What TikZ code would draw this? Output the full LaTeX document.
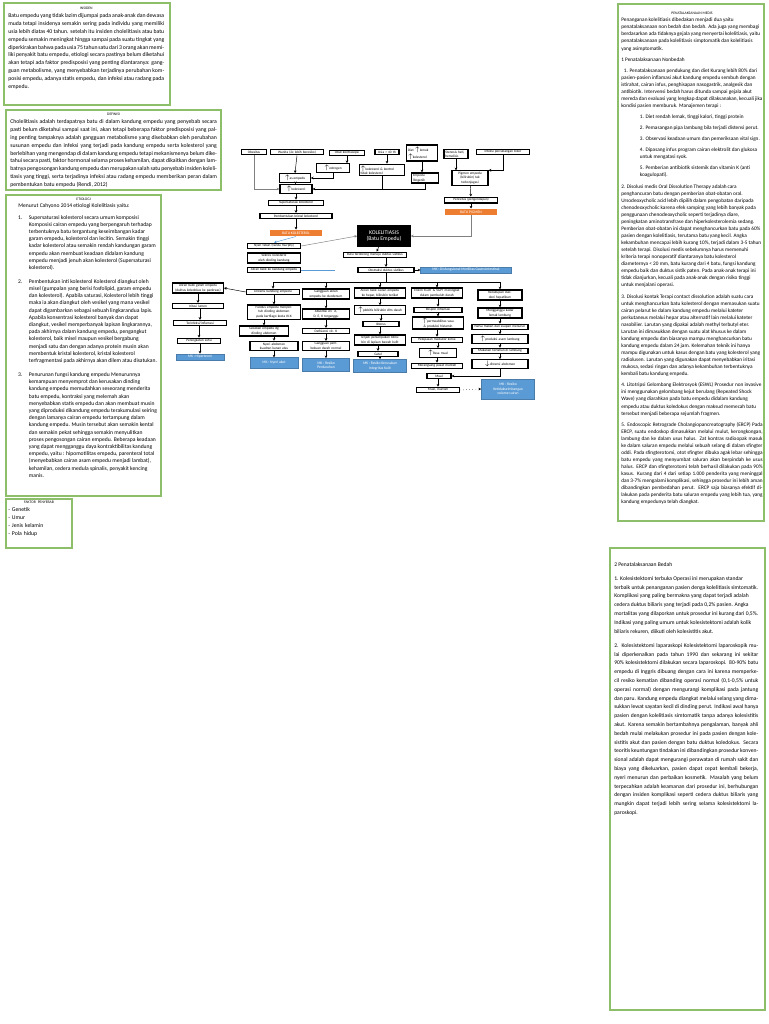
\documentclass[tikz,border=0pt]{standalone}
\usepackage{fontspec}
\setmainfont{Carlito}
\usetikzlibrary{arrows.meta}
\definecolor{gfr}{HTML}{8DBF6A}
\definecolor{mkb}{HTML}{5B9BD5}
\definecolor{org}{HTML}{ED7D31}
\tikzset{
 frame/.style={draw=gfr,line width=0.8pt},
 side/.style={anchor=north west,align=justify,inner sep=0pt,font=\fontsize{4.3}{5.9}\selectfont},
 fb/.style={draw,line width=0.9pt,fill=white,align=center,inner sep=1pt,font=\fontsize{2.6}{3.2}\selectfont},
 mk/.style={fill=mkb,draw=mkb!80!black,line width=0.3pt,text=white,align=center,inner sep=1.2pt,font=\fontsize{2.8}{3.4}\selectfont},
 ob/.style={fill=org,text=white,align=center,inner sep=1.5pt,font=\fontsize{2.8}{3.4}\selectfont},
 ar/.style={-{Stealth[length=2pt,width=2pt]},line width=0.35pt},
 ln/.style={line width=0.35pt,gray}
}
\newcommand{\itm}[1]{\par\noindent\llap{#1\hspace{5pt}}}
\begin{document}
\begin{tikzpicture}[x=0.75pt,y=-0.75pt]
\useasboundingbox (0,0) rectangle (768,1024);
% ---------- frames
\draw[frame] (4,3) rectangle (170,105);
\draw[frame] (6,110) rectangle (221,190);
\draw[frame] (6,195) rectangle (161,496);
\draw[frame] (6,499) rectangle (72,548);
\draw[frame] (618,4) rectangle (764,521);
\draw[frame] (610,548) rectangle (765,1010);
% ---------- left side texts
\node[side,text width=117pt] (incid) at (8,7) {\centering{\fontsize{2.8}{4}\selectfont INSIDEN\par}
Batu empedu yang tidak lazim dijumpai pada anak-anak dan dewasa muda tetapi insidenya semakin sering pada individu yang memiliki usia lebih diatas 40 tahun. setelah itu insiden cholelitiasis atau batu empedu semakin meningkat hingga sampai pada suatu tingkat yang diperkirakan bahwa pada usia 75 tahun satu dari 3 orang akan memiliki penyakit batu empedu, etiologi secara pastinya belum diketahui akan tetapi ada faktor predisposisi yang penting diantaranya: gangguan metabolisme, yang menyebabkan terjadinya perubahan komposisi empedu, adanya statis empedu, dan infeksi atau radang pada empedu.};
\node[side,text width=155pt] (def) at (10,113) {\centering{\fontsize{2.8}{4}\selectfont DEFINISI\par}
Cholelitiasis adalah terdapatnya batu di dalam kandung empedu yang penyebab secara pasti belum diketahui sampai saat ini, akan tetapi beberapa faktor predisposisi yang paling penting tampaknya adalah gangguan metabolisme yang disebabkan oleh perubahan susunan empedu dan infeksi yang terjadi pada kandung empedu serta kolesterol yang berlebihan yang mengendap di dalam kandung empedu tetapi mekanismenya belum diketahui secara pasti, faktor hormonal selama proses kehamilan, dapat dikaitkan dengan lambatnya pengosongan kandung empedu dan merupakan salah satu penyebab insiden kolelitiasis yang tinggi, serta terjadinya infeksi atau radang empedu memberikan peran dalam pembentukan batu empedu (Rendi, 2012)};
\node[side,text width=110pt,font=\fontsize{4.2}{5.4}\selectfont] (etio) at (10,198) {\centering{\fontsize{2.8}{4}\selectfont ETIOLOGI\par}\raggedright
\hspace*{6pt}Menurut Cahyono 2014 etiologi Kolelitiasis yaitu:\par\vspace{3pt}
\leftskip=14pt
\itm{1.}Supersaturasi kolesterol secara umum komposisi Komposisi cairan empedu yang berpengaruh terhadap terbentuknya batu tergantung keseimbangan kadar garam empedu, kolesterol dan lecitin. Semakin tinggi kadar kolesterol atau semakin rendah kandungan garam empedu akan membuat keadaan didalam kandung empedu menjadi jenuh akan kolesterol (Supersaturasi kolesterol).\par\vspace{5pt}
\itm{2.}Pembentukan inti kolesterol Kolesterol diangkut oleh misel (gumpalan yang berisi fosfolipid, garam empedu dan kolesterol). Apabila saturasi, Kolesterol lebih tinggi maka ia akan diangkut oleh vesikel yang mana vesikel dapat digambarkan sebagai sebuah lingkarandua lapis. Apabila konsentrasi kolesterol banyak dan dapat diangkut, vesikel memperbanyak lapisan lingkarannya, pada akhirnya dalam kandung empedu, pengangkut kolesterol, baik misel maupun vesikel bergabung menjadi satu dan dengan adanya protein musin akan membentuk kristal kolesterol, kristal kolesterol terfragmentasi pada akhirnya akan dilem atau disatukan.\par\vspace{5pt}
\itm{3.}Penurunan fungsi kandung empedu Menurunnya kemampuan menyemprot dan kerusakan dinding kandung empedu memudahkan seseorang menderita batu empedu, kontraksi yang melemah akan menyebabkan statis empedu dan akan membuat musin yang diproduksi dikandung empedu terakumulasi seiring dengan lamanya cairan empedu tertampung dalam kandung empedu. Musin tersebut akan semakin kental dan semakin pekat sehingga semakin menyulitkan proses pengosongan cairan empedu. Beberapa keadaan yang dapat mengganggu daya kontraktibilitas kandung empedu, yaitu : hipomotilitas empedu, parenteral total (menyebabkan cairan asam empedu menjadi lambat), kehamilan, cedera medula spinalis, penyakit kencing manis.\par};
\node[side,text width=46pt,align=left] (faktor) at (8,501) {\centering{\fontsize{2.8}{4}\selectfont FAKTOR PENYEBAB\par}\raggedright
- Genetik\\- Umur\\- Jenis kelamin\\- Pola hidup};
% ---------- right side texts
\node[side,text width=106pt,font=\fontsize{3.95}{5.3}\selectfont] (pm) at (621,12) {\centering{\fontsize{2.8}{4}\selectfont PENATALAKSANAAN MEDIS\par}\raggedright
Penanganan kolelitiasis dibedakan menjadi dua yaitu penatalaksanaan non bedah dan bedah. Ada juga yang membagi berdasarkan ada tidaknya gejala yang menyertai kolelitiasis, yaitu penatalaksanaan pada kolelitiasis simptomatik dan kolelitiasis yang asimptomatik.\par\vspace{3pt}
1 Penatalaksanaan Nonbedah\par\vspace{3pt}
\hspace*{2pt}1. Penatalaksanaan pendukung dan diet Kurang lebih 80\% dari pasien-pasien inflamasi akut kandung empedu sembuh dengan istirahat, cairan infus, penghisapan nasogastrik, analgesik dan antibiotik. Intervensi bedah harus ditunda sampai gejala akut mereda dan evaluasi yang lengkap dapat dilaksanakan, kecuali jika kondisi pasien memburuk. Manajemen terapi :\par\vspace{3pt}
{\leftskip=14pt
1. Diet rendah lemak, tinggi kalori, tinggi protein\par\vspace{3pt}
2. Pemasangan pipa lambung bila terjadi distensi perut.\par\vspace{3pt}
3. Observasi keadaan umum dan pemeriksaan vital sign.\par\vspace{3pt}
4. Dipasang infus program cairan elektrolit dan glukosa untuk mengatasi syok.\par\vspace{3pt}
5. Pemberian antibiotik sistemik dan vitamin K (anti koagulopati).\par}\vspace{3pt}
2. Disolusi medis Oral Dissolution Therapy adalah cara penghancuran batu dengan pemberian obat-obatan oral. Ursodeoxycholic acid lebih dipilih dalam pengobatan daripada chenodeoxycholic karena efek samping yang lebih banyak pada penggunaan chenodeoxycholic seperti terjadinya diare, peningkatan aminotransfrase dan hiperkolesterolemia sedang. Pemberian obat-obatan ini dapat menghancurkan batu pada 60\% pasien dengan kolelitiasis, terutama batu yang kecil. Angka kekambuhan mencapai lebih kurang 10\%, terjadi dalam 3-5 tahun setelah terapi. Disolusi medis sebelumnya harus memenuhi kriteria terapi nonoperatif diantaranya batu kolesterol diameternya < 20 mm, batu kurang dari 4 batu, fungsi kandung empedu baik dan duktus sistik paten. Pada anak-anak terapi ini tidak dianjurkan, kecuali pada anak-anak dengan risiko tinggi untuk menjalani operasi.\par\vspace{3pt}
3. Disolusi kontak Terapi contact dissolution adalah suatu cara untuk menghancurkan batu kolesterol dengan memasukan suatu cairan pelarut ke dalam kandung empedu melalui kateter perkutaneus melalui hepar atau alternatif lain melalui kateter nasobilier. Larutan yang dipakai adalah methyl terbutyl eter. Larutan ini dimasukkan dengan suatu alat khusus ke dalam kandung empedu dan biasanya mampu menghancurkan batu kandung empedu dalam 24 jam. Kelemahan teknik ini hanya mampu digunakan untuk kasus dengan batu yang kolesterol yang radiolusen. Larutan yang digunakan dapat menyebabkan iritasi mukosa, sedasi ringan dan adanya kekambuhan terbentuknya kembali batu kandung empedu.\par\vspace{3pt}
4. Litotripsi Gelombang Elektrosyok (ESWL) Prosedur non invasive ini menggunakan gelombang kejut berulang (Repeated Shock Wave) yang diarahkan pada batu empedu didalam kandung empedu atau duktus koledokus dengan maksud memecah batu tersebut menjadi beberapa sejumlah fragmen.\par\vspace{3pt}
5. Endoscopic Retrograde Cholangiopancreatography (ERCP) Pada ERCP, suatu endoskop dimasukkan melalui mulut, kerongkongan, lambung dan ke dalam usus halus. Zat kontras radioopak masuk ke dalam saluran empedu melalui sebuah selang di dalam sfingter oddi. Pada sfingterotomi, otot sfingter dibuka agak lebar sehingga batu empedu yang menyumbat saluran akan berpindah ke usus halus. ERCP dan sfingterotomi telah berhasil dilakukan pada 90\% kasus. Kurang dari 4 dari setiap 1.000 penderita yang meninggal dan 3-7\% mengalami komplikasi, sehingga prosedur ini lebih aman dibandingkan pembedahan perut. ERCP saja biasanya efektif dilakukan pada penderita batu saluran empedu yang lebih tua, yang kandung empedunya telah diangkat.};
\node[side,text width=108pt,font=\fontsize{4.2}{6.6}\selectfont] (bedah) at (614,562) {\raggedright
2 Penatalaksanaan Bedah\par\vspace{4pt}
1. Kolesistektomi terbuka Operasi ini merupakan standar terbaik untuk penanganan pasien denga kolelitiasis simtomatik. Komplikasi yang paling bermakna yang dapat terjadi adalah cedera duktus biliaris yang terjadi pada 0,2\% pasien. Angka mortalitas yang dilaporkan untuk prosedur ini kurang dari 0,5\%. Indikasi yang paling umum untuk kolesistektomi adalah kolik biliaris rekuren, diikuti oleh kolesistitis akut.\par\vspace{4pt}
2. Kolesistektomi laparaskopi Kolesistektomi laparoskopik mulai diperkenalkan pada tahun 1990 dan sekarang ini sekitar 90\% kolesistektomi dilakukan secara laparoskopi. 80-90\% batu empedu di Inggris dibuang dengan cara ini karena memperkecil resiko kematian dibanding operasi normal (0,1-0,5\% untuk operasi normal) dengan mengurangi komplikasi pada jantung dan paru. Kandung empedu diangkat melalui selang yang dimasukkan lewat sayatan kecil di dinding perut. Indikasi awal hanya pasien dengan kolelitiasis simtomatik tanpa adanya kolesistitis akut. Karena semakin bertambahnya pengalaman, banyak ahli bedah mulai melakukan prosedur ini pada pasien dengan kolesistitis akut dan pasien dengan batu duktus koledokus. Secara teoritis keuntungan tindakan ini dibandingkan prosedur konvensional adalah dapat mengurangi perawatan di rumah sakit dan biaya yang dikeluarkan, pasien dapat cepat kembali bekerja, nyeri menurun dan perbaikan kosmetik. Masalah yang belum terpecahkan adalah keamanan dari prosedur ini, berhubungan dengan insiden komplikasi seperti cedera duktus biliaris yang mungkin dapat terjadi lebih sering selama kolesistektomi laparoskopi.};
% ---------- flowchart: risk factors
\node[fb,text width=17pt] (obes) at (254,152) {Obesitas};
\node[fb,text width=38pt] (wan) at (297,152) {Wanita (2x lebih beresiko)};
\node[fb,text width=24pt] (obat) at (347,153) {Obat kontrasepsi};
\node[fb,text width=16pt] (usia) at (387,152) {Usia > 40 th};
\node[fb,text width=21pt,align=left] (diet) at (422,153) {Diet $\uparrow$lemak\\$\uparrow$kolesterol};
\node[fb,text width=16pt,align=left] (sten) at (456,154) {Stenosis hati, hemolisis};
\node[fb,text width=38pt] (inf) at (503,152) {Infeksi percabangan bilier};
\node[fb,text width=23pt] (estr) at (333,168) {$\uparrow$estrogen};
\node[fb,text width=32pt,align=left] (kont) at (382,170) {$\uparrow$kolesterol \& kontrol\\ tidak kolesterol};
\node[fb,text width=18pt,align=left] (lito) at (425,178) {Empedu\\litogenik};
\node[fb,text width=25pt] (pig) at (470,178) {Pigmen empedu (bilirubin) tak terkonjugasi};
\node[fb,text width=21pt] (asem) at (295,178) {$\uparrow$as.empedu};
\node[fb,text width=22pt] (kol) at (296,189) {$\uparrow$kolesterol};
\node[fb,text width=39pt] (sup) at (296,203) {Supersaturasi kolesterol};
\node[fb,text width=52pt] (krist) at (296,216) {Pembentukan kristal kolesterol};
\node[ob,minimum width=39pt] (bk) at (296,233) {BATU KOLESTEROL};
\node[fb,text width=38pt] (penc) at (471,200) {Pencetus (pengendapan)};
\node[ob,minimum width=39pt] (bp) at (471,212) {BATU PIGMEN};
\node[fill=black,text=white,align=center,minimum width=40pt,minimum height=16pt,inner sep=1pt,font=\fontsize{4.3}{5}\selectfont] (kolel) at (384,236) {KOLELITIASIS\\(Batu Empedu)};
\node[fb,text width=45pt] (dor) at (375,255) {Batu terdorong menuju duktus sistikus};
\node[fb,text width=40pt] (obs) at (386,270) {Obstruksi duktus sistikus};
\node[mk,minimum width=68pt] (mkgi) at (466,270) {MK : Disfungsional Motilitas Gastrointestinal};
\node[fb,text width=38pt] (l1) at (274,246) {Nyeri tekan (tanda murphy)};
\node[fb,text width=38pt] (l2) at (274,258) {Sekresi kolesterol oleh dinding kandung};
\node[fb,text width=38pt] (l3) at (274,270) {Aliran balik ke kandung empedu};
% ---------- lower columns
\node[fb,text width=36pt] (a1) at (198,288) {Aliran balik getah empedu (duktus koledokus ke pankreas)};
\node[fb,text width=36pt] (a2) at (198,306) {Iritasi lumen};
\node[fb,text width=38pt] (a3) at (200,323) {Terinfeksi/inflamasi};
\node[fb,text width=30pt] (a4) at (199,341) {Peningkatan suhu};
\node[mk,minimum width=36pt] (a5) at (200,357) {MK : Hipertermi};
\node[fb,text width=38pt] (b1) at (273,292) {Distensi kandung empedu};
\node[fb,text width=38pt] (b2) at (274,312) {Fundus empedu menyentuh dinding abdomen pada kartilago kosta IX-X};
\node[fb,text width=35pt] (b3) at (264,331) {Gesekan empedu dg dinding abdomen};
\node[fb,text width=34pt] (b4) at (274,346) {Nyeri abdomen kuadran kanan atas};
\node[mk,minimum width=36pt,minimum height=8pt] (b5) at (274,363) {MK : Nyeri akut};
\node[fb,text width=33pt] (c1) at (326,294) {Gangguan aliran empedu ke duodenum};
\node[fb,text width=33pt] (c2) at (326,314) {Absorbsi vit. A, D, E, K terganggu};
\node[fb,text width=33pt] (c3) at (326,331) {Defisiensi vit. K};
\node[fb,text width=33pt] (c4) at (326,346) {Gangguan pembekuan darah normal};
\node[mk,minimum width=35pt,minimum height=10pt] (c5) at (326,365) {MK : Resiko\\Perdarahan};
\node[fb,text width=36pt] (d1) at (380,293) {Aliran balik cairan empedu ke hepar, bilirubin terikat};
\node[fb,text width=36pt] (d2) at (380,310) {$\uparrow$plebitis bilirubin dlm darah};
\node[fb,text width=25pt] (d3) at (381,324) {Ikterus};
\node[fb,text width=36pt] (d4) at (380,340) {Terjadi penumpukan bilirubin di lapisan bawah kulit};
\node[fb,text width=28pt] (d5) at (378,354) {Gatal};
\node[mk,minimum width=40pt,minimum height=10pt] (d6) at (380,366) {MK : Resiko Kerusakan\\Integritas Kulit};
\node[fb,text width=36pt] (e1) at (437,293) {Enzim SGOT \& SGPT meningkat dalam pembuluh darah};
\node[fb,text width=34pt] (e2) at (438,310) {Respon inflamasi};
\node[fb,text width=36pt] (e3) at (438,323) {$\uparrow$permeabilitas vasa \& produksi histamin};
\node[fb,text width=36pt] (e4) at (437,340) {Pelepasan mediator kimia};
\node[fb,text width=26pt] (e5) at (438,353) {$\uparrow$Rasa mual};
\node[fb,text width=36pt] (e6) at (437,366) {Merangsang pusat muntah};
\node[fb,text width=31pt] (f1) at (500,295) {Kecukupan duodeni hepatikum};
\node[fb,text width=31pt] (f2) at (500,313) {Mengganggu kadar lemak lambung};
\node[fb,text width=40pt] (f3) at (500,327) {Nafsu makan dan asupan menurun};
\node[fb,text width=40pt] (f4) at (500,339) {$\uparrow$produksi asam lambung};
\node[fb,text width=40pt] (f5) at (500,351) {Makanan tertahan di lambung};
\node[fb,text width=40pt] (f6) at (500,364) {$\downarrow$distensi abdomen};
\node[fb,text width=16pt] (g1) at (439,376) {Mual};
\node[fb,text width=30pt] (g2) at (438,390) {Mual, muntah};
\node[mk,minimum width=40pt,minimum height=15pt] (g3) at (508,389) {MK : Resiko\\Ketidakseimbangan\\volume cairan};
% ---------- connectors
\draw[ln,ar] (obes.south) |- (kol.west);
\draw[ar] (wan.south) -- (asem.north);
\draw[ar] (obat.south) -- (estr.north -| obat.south);
\draw[ar] (estr.south) |- (asem.east);
\draw[ar] (usia.south) -- (kont.north -| usia.south);
\draw[ar] (diet.south) -- (lito.north -| diet.south);
\draw[line width=0.35pt] (kont.south) -- (kont.south |- kol.east);
\draw[ar] (lito.south) |- (kol.east);
\draw[ar] (asem) -- (kol);
\draw[ar] (kol) -- (sup);
\draw[ar] (sup) -- (krist);
\draw[ar] (krist) -- (bk);
\draw[ar] (sten.south) -- (pig.north -| sten.south);
\draw[ar] (inf.south) |- (pig.north east);
\draw[ar] (pig) -- (penc);
\draw[ar] (penc) -- (bp);
\draw[ln,ar] (bp.south) |- (kolel.east);
\draw[ln,ar] (l1.east) -- (kolel.west);
\draw[ar,draw=mkb] (bk.south) -- (l1.north);
\coordinate (l3end) at (335,270);
\draw[draw=mkb,line width=0.35pt] (l3.east) -- (l3end);
\draw[ar] (kolel) -- (dor);
\draw[ar] (dor.south -| obs.north) -- (obs);
\draw[ar] (obs) -- (mkgi);
\coordinate (bar) at (386,282);
\draw[line width=0.35pt] (obs.south) -- (bar);
\draw[line width=0.35pt] (b1.north |- bar) -- (f1.north |- bar);
\foreach \n in {b1,c1,d1,e1,f1} \draw[ar] (\n.north |- bar) -- (\n.north);
\draw[ar] (b1.west) -- (a1.east);
\foreach \p/\q in {a1/a2,a2/a3,a3/a4,a4/a5,b1/b2,b2/b3,b3/b4,b4/b5,c1/c2,c2/c3,c3/c4,c4/c5,d1/d2,d2/d3,d3/d4,d4/d5,d5/d6,e1/e2,e2/e3,e3/e4,e4/e5,e5/e6,f1/f2,f2/f3,f3/f4,f4/f5,f5/f6,g1/g2}
  \draw[ar] (\p.south -| \q.north) -- (\q.north);
\draw[ar] (f6.south) |- (g1.east);
\draw[ar,dotted] (g2.east) -- (g3.west);
\end{tikzpicture}
\end{document}
